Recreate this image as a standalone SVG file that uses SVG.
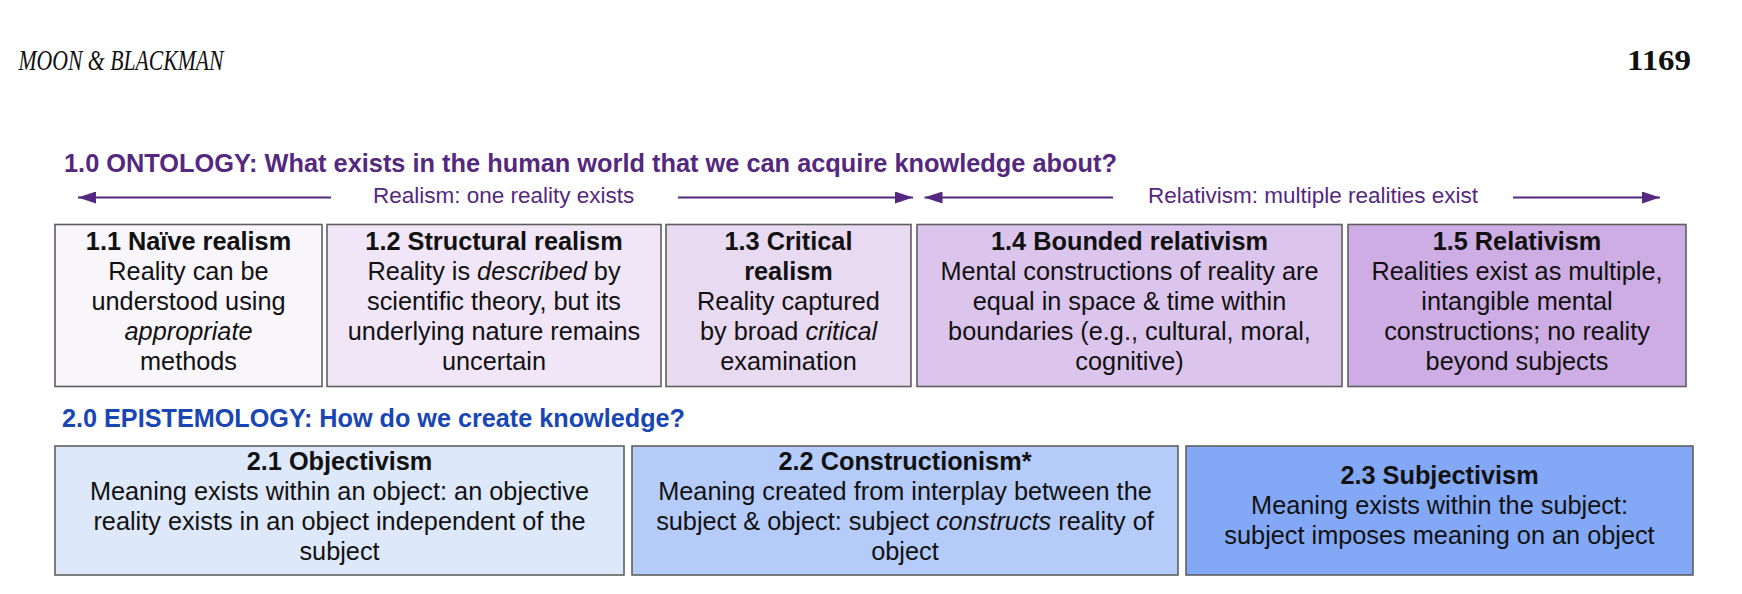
<svg xmlns="http://www.w3.org/2000/svg" width="1742" height="594" viewBox="0 0 1742 594">
<defs>
<style>
.box{stroke:#5f5f5f;stroke-width:1.6}
.t{font-family:"Liberation Sans",Arial,sans-serif;font-size:25.3px;fill:#111;text-anchor:middle}
.b{font-weight:bold}
.i{font-style:italic}
.hd{font-family:"Liberation Sans",Arial,sans-serif;font-size:25.3px;font-weight:bold}
.lbl{font-family:"Liberation Sans",Arial,sans-serif;font-size:22.5px;fill:#55287f}
.arr{stroke:#55287f;stroke-width:2;fill:none;marker-end:url(#ah)}
</style>
<marker id="ah" viewBox="0 0 18 12" refX="18" refY="6" markerWidth="18" markerHeight="12" markerUnits="userSpaceOnUse" orient="auto">
<path d="M0,0 L18,6 L0,12 Z" fill="#55287f"/>
</marker>
</defs>
<rect width="1742" height="594" fill="#ffffff"/>
<text x="18.5" y="70" font-family="Liberation Serif,serif" font-style="italic" font-size="30" textLength="205" lengthAdjust="spacingAndGlyphs" fill="#111">MOON &amp; BLACKMAN</text>
<text x="1627" y="70" font-family="Liberation Serif,serif" font-weight="bold" font-size="30" textLength="64" lengthAdjust="spacingAndGlyphs" fill="#111">1169</text>
<text x="64" y="171.5" class="hd" fill="#55287f" textLength="1053" lengthAdjust="spacingAndGlyphs">1.0 ONTOLOGY: What exists in the human world that we can acquire knowledge about?</text>
<text x="373" y="202.5" class="lbl">Realism: one reality exists</text>
<text x="1148" y="202.5" class="lbl">Relativism: multiple realities exist</text>
<g id="connectors">
<line class="arr" x1="331" y1="197.5" x2="78" y2="197.5"/>
<line class="arr" x1="678" y1="197.5" x2="913" y2="197.5"/>
<line class="arr" x1="1113" y1="197.5" x2="924.5" y2="197.5"/>
<line class="arr" x1="1513" y1="197.5" x2="1660" y2="197.5"/>
</g>
<g id="n11">
<rect class="box" x="55" y="224.5" width="267" height="162" fill="#f8f5fb"/>
<text class="t"><tspan class="b" x="188.5" y="250">1.1 Naïve realism</tspan><tspan x="188.5" y="280">Reality can be</tspan><tspan x="188.5" y="310">understood using</tspan><tspan class="i" x="188.5" y="340">appropriate</tspan><tspan x="188.5" y="370">methods</tspan></text>
</g>
<g id="n12">
<rect class="box" x="327" y="224.5" width="334" height="162" fill="#f0e6f7"/>
<text class="t"><tspan class="b" x="494" y="250">1.2 Structural realism</tspan><tspan x="494" y="280">Reality is <tspan class="i">described</tspan> by</tspan><tspan x="494" y="310">scientific theory, but its</tspan><tspan x="494" y="340">underlying nature remains</tspan><tspan x="494" y="370">uncertain</tspan></text>
</g>
<g id="n13">
<rect class="box" x="666" y="224.5" width="245" height="162" fill="#e8daf1"/>
<text class="t"><tspan class="b" x="788.5" y="250">1.3 Critical</tspan><tspan class="b" x="788.5" y="280">realism</tspan><tspan x="788.5" y="310">Reality captured</tspan><tspan x="788.5" y="340">by broad <tspan class="i">critical</tspan></tspan><tspan x="788.5" y="370">examination</tspan></text>
</g>
<g id="n14">
<rect class="box" x="917" y="224.5" width="425" height="162" fill="#dcc5ec"/>
<text class="t"><tspan class="b" x="1129.5" y="250">1.4 Bounded relativism</tspan><tspan x="1129.5" y="280">Mental constructions of reality are</tspan><tspan x="1129.5" y="310">equal in space &amp; time within</tspan><tspan x="1129.5" y="340">boundaries (e.g., cultural, moral,</tspan><tspan x="1129.5" y="370">cognitive)</tspan></text>
</g>
<g id="n15">
<rect class="box" x="1348" y="224.5" width="338" height="162" fill="#cdade3"/>
<text class="t"><tspan class="b" x="1517" y="250">1.5 Relativism</tspan><tspan x="1517" y="280">Realities exist as multiple,</tspan><tspan x="1517" y="310">intangible mental</tspan><tspan x="1517" y="340">constructions; no reality</tspan><tspan x="1517" y="370">beyond subjects</tspan></text>
</g>
<text x="62" y="426.5" class="hd" fill="#1946b5" textLength="623" lengthAdjust="spacingAndGlyphs">2.0 EPISTEMOLOGY: How do we create knowledge?</text>
<g id="n21">
<rect class="box" x="55" y="446" width="569" height="129" fill="#dee8fb"/>
<text class="t"><tspan class="b" x="339.5" y="470">2.1 Objectivism</tspan><tspan x="339.5" y="500">Meaning exists within an object: an objective</tspan><tspan x="339.5" y="530">reality exists in an object independent of the</tspan><tspan x="339.5" y="560">subject</tspan></text>
</g>
<g id="n22">
<rect class="box" x="632" y="446" width="546" height="129" fill="#b5cbfa"/>
<text class="t"><tspan class="b" x="905" y="470">2.2 Constructionism*</tspan><tspan x="905" y="500">Meaning created from interplay between the</tspan><tspan x="905" y="530">subject &amp; object: subject <tspan class="i">constructs</tspan> reality of</tspan><tspan x="905" y="560">object</tspan></text>
</g>
<g id="n23">
<rect class="box" x="1186" y="446" width="507" height="129" fill="#83a9f6"/>
<text class="t"><tspan class="b" x="1439.5" y="484">2.3 Subjectivism</tspan><tspan x="1439.5" y="514">Meaning exists within the subject:</tspan><tspan x="1439.5" y="544">subject imposes meaning on an object</tspan></text>
</g>
</svg>
